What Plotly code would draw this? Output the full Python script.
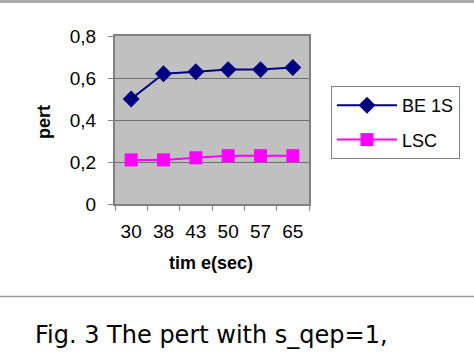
import plotly.graph_objects as go

categories = ["30", "38", "43", "50", "57", "65"]
be1s = [0.50, 0.62, 0.63, 0.64, 0.64, 0.65]
lsc = [0.21, 0.21, 0.22, 0.23, 0.23, 0.23]
y_ticks = [0, 0.2, 0.4, 0.6, 0.8]
y_tick_labels = ["0", "0,2", "0,4", "0,6", "0,8"]

W, H = 474, 358
L, R, T, B = 115, 309, 36, 204

def px_x(p):
    return (p - L) / (R - L)

def px_y(p):
    return (B - p) / (B - T)

fig = go.Figure()
fig.add_trace(go.Scatter(
    x=categories, y=be1s, name="BE 1S", mode="lines+markers", legendgroup="a",
    line=dict(color="#000080", width=2),
    marker=dict(symbol="diamond", size=13, color="#000080"),
))
fig.add_trace(go.Scatter(
    x=categories, y=lsc, name="LSC", mode="lines+markers", legendgroup="b",
    line=dict(color="#ff00ff", width=2),
    marker=dict(symbol="square", size=13, color="#ff00ff"),
))

fig.update_layout(
    width=W, height=H,
    margin=dict(l=L, r=W - R, t=T, b=H - B, pad=0),
    paper_bgcolor="white",
    plot_bgcolor="#c0c0c0",
    font=dict(family="Liberation Sans, Arial", size=16, color="black"),
    separators=",.",
    showlegend=True,
    legend=dict(
        x=px_x(331), y=px_y(86), xanchor="left", yanchor="top",
        bordercolor="#808080", borderwidth=1, bgcolor="white",
        font=dict(size=18), itemwidth=60, tracegroupgap=8,
    ),
    xaxis=dict(
        type="category", tickson="boundaries", ticks="outside", ticklen=5,
        tickcolor="#808080", showgrid=False, showline=True,
        linecolor="#808080", linewidth=2, mirror=True,
        tickfont=dict(size=19), ticklabelstandoff=9,
        range=[-0.5, 5.5],
    ),
    yaxis=dict(
        range=[0, 0.8], tickvals=y_ticks, ticktext=y_tick_labels,
        ticks="outside", ticklen=5, tickcolor="#808080",
        showgrid=True, gridcolor="#707070", gridwidth=1,
        showline=True, linecolor="#808080", linewidth=2, mirror=True,
        tickfont=dict(size=19), ticklabelstandoff=8, zeroline=False,
    ),
    annotations=[
        dict(text="<b>pert</b>", x=px_x(44), y=px_y(122), xref="paper", yref="paper",
             xanchor="center", yanchor="middle",
             showarrow=False, textangle=-90, font=dict(size=18)),
        dict(text="<b>tim e(sec)</b>", x=px_x(211), y=px_y(263), xref="paper", yref="paper",
             xanchor="center", yanchor="middle",
             showarrow=False, font=dict(size=18)),
        dict(text="Fig. 3 The pert with s_qep=1,", x=px_x(211), y=px_y(335),
             xref="paper", yref="paper", showarrow=False,
             xanchor="center", yanchor="middle",
             font=dict(family="DejaVu Sans, Verdana", size=24)),
    ],
    shapes=[
        dict(type="line", xref="paper", yref="paper", x0=px_x(0), x1=px_x(W),
             y0=px_y(1.5), y1=px_y(1.5), line=dict(color="#aaaaaa", width=3)),
        dict(type="line", xref="paper", yref="paper", x0=px_x(0), x1=px_x(W),
             y0=px_y(296.5), y1=px_y(296.5), line=dict(color="#999999", width=1.5)),
    ],
)

fig.write_html("out.html", config={"displayModeBar": False},
               post_script="document.body.style.margin='0';")
